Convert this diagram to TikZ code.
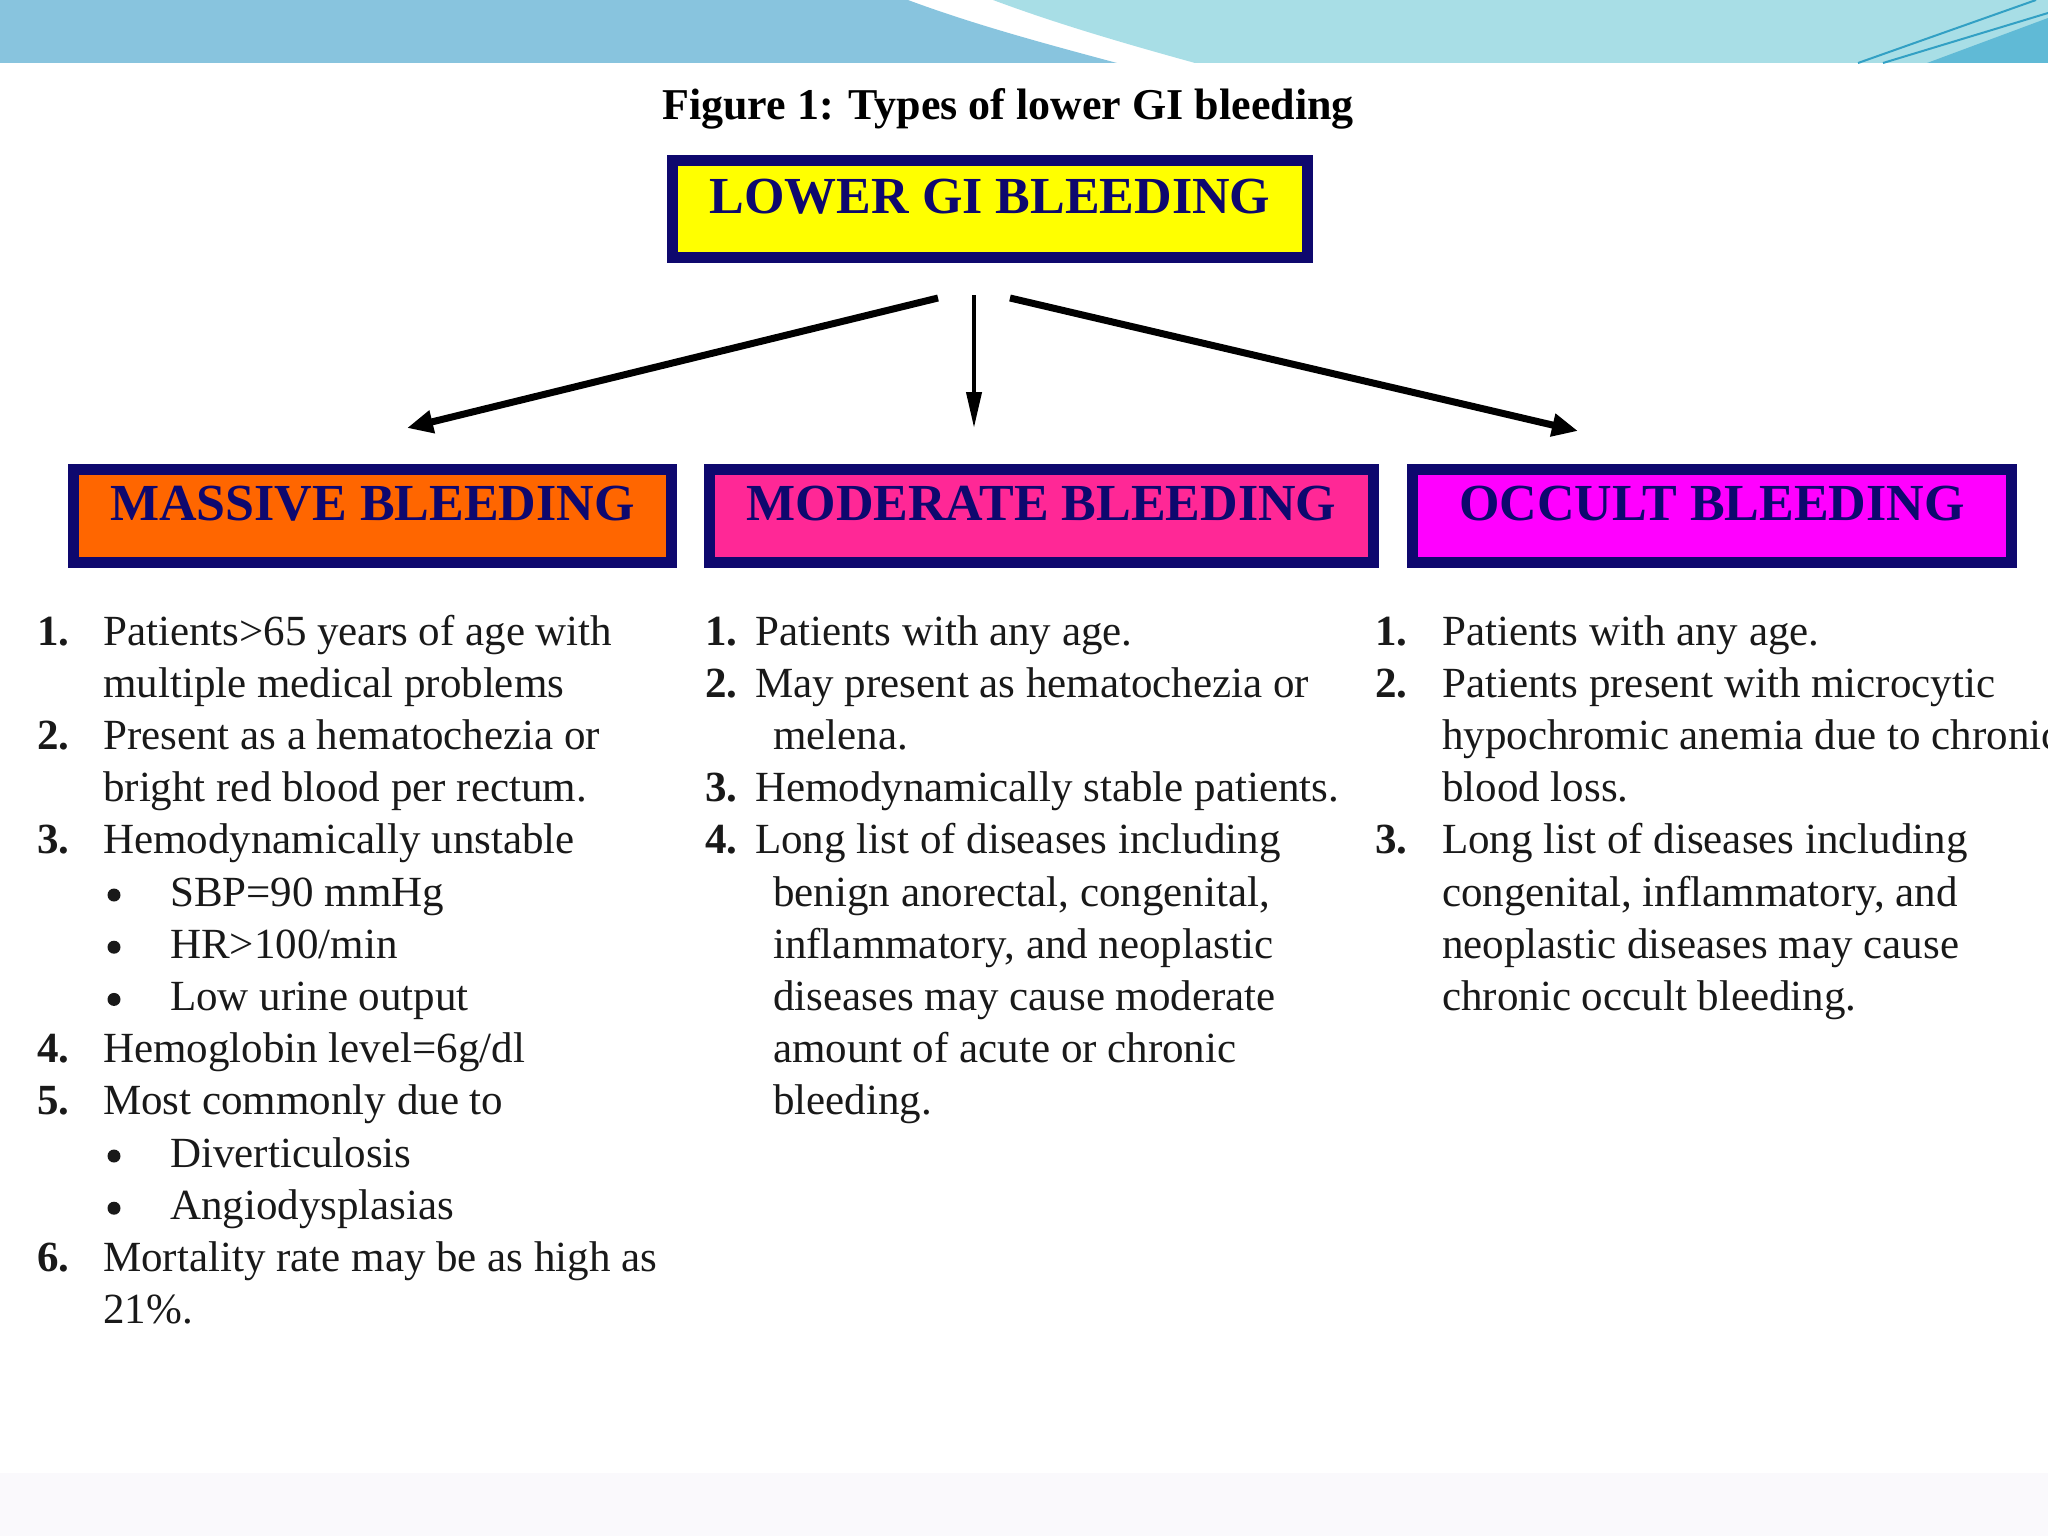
\documentclass[tikz,border=0pt]{standalone}
\usepackage{fontspec}
\setmainfont{Liberation Serif}
\usetikzlibrary{arrows.meta}
\definecolor{navy}{RGB}{14,8,110}
\definecolor{bannerL}{RGB}{136,196,222}
\definecolor{bannerR}{RGB}{168,222,230}
\definecolor{bannerD}{RGB}{96,186,214}
\definecolor{bannerLine}{RGB}{50,160,196}
\definecolor{yellowbox}{RGB}{255,255,0}
\definecolor{orangebox}{RGB}{255,102,0}
\definecolor{pinkbox}{RGB}{255,40,150}
\definecolor{magentabox}{RGB}{255,0,255}
\definecolor{textc}{RGB}{25,25,25}
\definecolor{faint}{RGB}{250,249,252}
\newcommand{\hdfont}{\fontsize{52}{60}\selectfont\bfseries}
\newcommand{\bodyfont}{\fontsize{43}{52}\selectfont}
\newcommand{\numfont}{\fontsize{43}{52}\selectfont\bfseries}
\newcommand{\titlefont}{\fontsize{44}{52}\selectfont\bfseries}
\tikzset{
  bx/.style={draw=navy, line width=11pt, inner sep=0pt, font=\hdfont, text=navy,
             text height=40pt, text depth=32pt},
  txt/.style={anchor=base west, inner sep=0pt, font=\bodyfont, text=textc},
  num/.style={anchor=base west, inner sep=0pt, font=\numfont, text=textc},
  bul/.style={circle, fill=textc, inner sep=0pt, minimum size=13pt},
  arw/.style={line width=7pt, draw=black, -{Triangle[length=26pt,width=22pt]}},
  arwthin/.style={line width=4pt, draw=black, -{Triangle[length=36pt,width=15pt]}}
}
\begin{document}
\begin{tikzpicture}[x=1pt,y=-1pt]
\useasboundingbox (0,0) rectangle (2048,1536);
\begin{scope}
\clip (0,0) rectangle (2048,1536);
% banner
\fill[bannerL] (0,0) -- (908,0) .. controls (975,25) and (1050,45) .. (1117,63) -- (0,63) -- cycle;
\fill[bannerR] (993,0) -- (2048,0) -- (2048,63) -- (1195,63) .. controls (1130,45) and (1060,25) .. (993,0) -- cycle;
\fill[bannerD] (1927,63) -- (2048,18) -- (2048,63) -- cycle;
\draw[bannerLine, line width=2pt] (1858,63) -- (2036,0);
\draw[bannerLine, line width=2pt] (1883,63) -- (2048,13);
% faint bottom band
\fill[faint] (0,1473) rectangle (2048,1536);

% title
\node[anchor=base, inner sep=0pt, font=\titlefont, text=black] (title) at (1008,120) {Figure 1: Types of lower GI bleeding};

% boxes
\node[bx, fill=yellowbox, minimum width=635pt, minimum height=97pt] (lgib) at (990,209) {LOWER GI BLEEDING};
\node[bx, fill=orangebox, minimum width=598pt, minimum height=93pt] (massive) at (372.5,516) {MASSIVE BLEEDING};
\node[bx, fill=pinkbox, minimum width=664pt, minimum height=93pt] (moderate) at (1041.5,516) {MODERATE BLEEDING};
\node[bx, fill=magentabox, minimum width=599pt, minimum height=93pt] (occult) at (1712,516) {OCCULT BLEEDING};

% arrows
\coordinate (aL) at (938,298);
\coordinate (aM) at (974,295);
\coordinate (aR) at (1010,298);
\coordinate (tL) at (407,428);
\coordinate (tM) at (974,428);
\coordinate (tR) at (1578,431);
\draw[arw] (aL) -- (tL);
\draw[arwthin] (aM) -- (tM);
\draw[arw] (aR) -- (tR);

% column 1
\node[num] (m1n) at (37,645) {1.};
\node[txt] (m1a) at (103,645) {Patients>65 years of age with};
\node[txt] (m1b) at (103,697.2) {multiple medical problems};
\node[num] (m2n) at (37,749.4) {2.};
\node[txt] (m2a) at (103,749.4) {Present as a hematochezia or};
\node[txt] (m2b) at (103,801.6) {bright red blood per rectum.};
\node[num] (m3n) at (37,853.8) {3.};
\node[txt] (m3a) at (103,853.8) {Hemodynamically unstable};
\node[bul] (m3b1) at (114,895) {};
\node[txt] (m3b1t) at (170,906) {SBP=90 mmHg};
\node[bul] (m3b2) at (114,947.2) {};
\node[txt] (m3b2t) at (170,958.2) {HR>100/min};
\node[bul] (m3b3) at (114,999.4) {};
\node[txt] (m3b3t) at (170,1010.4) {Low urine output};
\node[num] (m4n) at (37,1062.6) {4.};
\node[txt] (m4a) at (103,1062.6) {Hemoglobin level=6g/dl};
\node[num] (m5n) at (37,1114.8) {5.};
\node[txt] (m5a) at (103,1114.8) {Most commonly due to};
\node[bul] (m5b1) at (114,1156) {};
\node[txt] (m5b1t) at (170,1167) {Diverticulosis};
\node[bul] (m5b2) at (114,1208.2) {};
\node[txt] (m5b2t) at (170,1219.2) {Angiodysplasias};
\node[num] (m6n) at (37,1271.4) {6.};
\node[txt] (m6a) at (103,1271.4) {Mortality rate may be as high as};
\node[txt] (m6b) at (103,1323.6) {21\%.};

% column 2
\node[num] (d1n) at (705,645) {1.};
\node[txt] (d1a) at (755,645) {Patients with any age.};
\node[num] (d2n) at (705,697.2) {2.};
\node[txt] (d2a) at (755,697.2) {May present as hematochezia or};
\node[txt] (d2b) at (773,749.4) {melena.};
\node[num] (d3n) at (705,801.6) {3.};
\node[txt] (d3a) at (755,801.6) {Hemodynamically stable patients.};
\node[num] (d4n) at (705,853.8) {4.};
\node[txt] (d4a) at (755,853.8) {Long list of diseases including};
\node[txt] (d4b) at (773,906) {benign anorectal, congenital,};
\node[txt] (d4c) at (773,958.2) {inflammatory, and neoplastic};
\node[txt] (d4d) at (773,1010.4) {diseases may cause moderate};
\node[txt] (d4e) at (773,1062.6) {amount of acute or chronic};
\node[txt] (d4f) at (773,1114.8) {bleeding.};

% column 3
\node[num] (o1n) at (1375,645) {1.};
\node[txt] (o1a) at (1442,645) {Patients with any age.};
\node[num] (o2n) at (1375,697.2) {2.};
\node[txt] (o2a) at (1442,697.2) {Patients present with microcytic};
\node[txt] (o2b) at (1442,749.4) {hypochromic anemia due to chronic};
\node[txt] (o2c) at (1442,801.6) {blood loss.};
\node[num] (o3n) at (1375,853.8) {3.};
\node[txt] (o3a) at (1442,853.8) {Long list of diseases including};
\node[txt] (o3b) at (1442,906) {congenital, inflammatory, and};
\node[txt] (o3c) at (1442,958.2) {neoplastic diseases may cause};
\node[txt] (o3d) at (1442,1010.4) {chronic occult bleeding.};
\end{scope}
\end{tikzpicture}
\end{document}
